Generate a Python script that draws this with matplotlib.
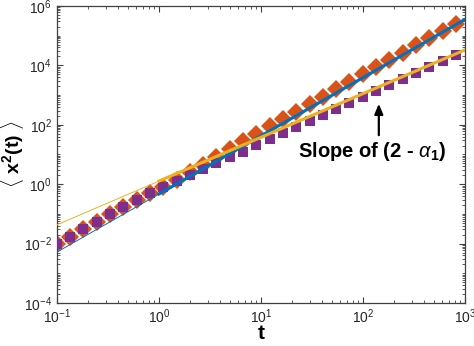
import numpy as np
import matplotlib
matplotlib.use("Agg")
import matplotlib.pyplot as plt
from matplotlib.ticker import LogLocator, NullFormatter

plt.rcParams['font.family'] = ['Liberation Sans', 'DejaVu Sans']
plt.rcParams['mathtext.fontset'] = 'custom'
plt.rcParams['mathtext.rm'] = 'Liberation Sans'
plt.rcParams['mathtext.bf'] = 'Liberation Sans:bold'
plt.rcParams['mathtext.it'] = 'Liberation Sans:italic'

# time points (31 points, ratio 1.35 starting at 0.1)
t = [0.1 * 1.35 ** k for k in range(31)]

# orange diamonds
msd_diamond = [0.0097, 0.0171, 0.0303, 0.0546, 0.097, 0.167, 0.294, 0.506, 0.824,
               1.44, 2.58, 4.6, 8.24, 15.3, 27.4, 49, 87.7, 151, 270, 483, 863,
               1545, 2760, 5130, 8830, 15200, 26200, 46800, 80500, 1.44e5, 2.48e5]
# purple squares
msd_square = [0.0097, 0.0171, 0.0303, 0.0546, 0.097, 0.167, 0.294, 0.506, 0.824,
              1.33, 2.04, 3.13, 4.98, 7.93, 12.6, 20.1, 32, 50.9, 81.1, 129, 206,
              327, 521, 830, 1320, 2100, 3350, 5330, 8630, 14100, 22400]

# power-law guide lines: (t, value) points
blue_t = [0.1, 1.0, 1000.0]
blue_y = [0.0052, 0.0052 * 10 ** 1.9525, 3.5e5]
yellow_t = [0.1, 1.0, 1000.0]
yellow_y = [0.043, 0.043 * 10 ** 1.4725, 3.3e4]

fig = plt.figure(figsize=(4.74, 3.46), dpi=100)
ax = fig.add_axes([0.120, 0.124, 0.861, 0.859])

c_or = '#D95319'
c_pu = '#7E2F8E'
c_bl = '#0072BD'
c_ye = '#EDB120'

ax.plot(t, msd_diamond, linestyle='none', marker='D', markersize=9.5,
        color=c_or, markeredgewidth=0, zorder=2)
ax.plot(t, msd_square, linestyle='none', marker='s', markersize=6.8,
        color=c_pu, markeredgewidth=0, zorder=3)

# thin early parts, thick late parts
ax.plot(blue_t[:2], blue_y[:2], color=c_bl, lw=0.7, zorder=4)
ax.plot(yellow_t[:2], yellow_y[:2], color=c_ye, lw=0.7, zorder=4)
ax.plot(blue_t[1:], blue_y[1:], color=c_bl, lw=2.2, zorder=5)
ax.plot(yellow_t[1:], yellow_y[1:], color=c_ye, lw=2.2, zorder=5)

ax.set_xscale('log')
ax.set_yscale('log')
ax.set_xlim(0.1, 1000)
ax.set_ylim(1e-4, 1e6)
ax.set_xticks([1e-1, 1e0, 1e1, 1e2, 1e3])
ax.set_yticks([1e-4, 1e-2, 1e0, 1e2, 1e4, 1e6])
ax.xaxis.set_minor_locator(LogLocator(base=10, subs=np.arange(2, 10), numticks=50))
ax.yaxis.set_minor_locator(LogLocator(base=10, subs=np.arange(1, 10), numticks=50))
ax.xaxis.set_minor_formatter(NullFormatter())
ax.yaxis.set_minor_formatter(NullFormatter())

axcol = '#404040'
for s in ax.spines.values():
    s.set_color(axcol)
    s.set_linewidth(0.9)
ax.tick_params(which='both', direction='in', top=True, right=True, colors=axcol,
               labelcolor='#262626', labelsize=10)
ax.tick_params(which='major', length=4, width=0.8)
ax.tick_params(which='minor', length=2.2, width=0.6)
ax.tick_params(axis='x', pad=3)

ax.set_xlabel('t', fontsize=15, fontweight='bold', labelpad=-1)
ax.set_ylabel(r'$\langle\ \mathbf{x^{2}(t)}\ \rangle$', fontsize=14, labelpad=-2)

arrow_t = 143
ax.annotate('', xy=(arrow_t, 10 ** ((303 - 101) / 29.7 - 4)),
            xytext=(arrow_t, 10 ** ((303 - 138) / 29.7 - 4)),
            arrowprops=dict(arrowstyle='-|>,head_width=0.25,head_length=0.6',
                            color='black', lw=1.6), zorder=6)
ax.text(0.772, 0.51, r'Slope of (2 - $\alpha_{\mathbf{1}}$)',
        transform=ax.transAxes, fontsize=14.5, fontweight='bold',
        ha='center', va='center', zorder=6)

fig.savefig('out.png', dpi=100)
